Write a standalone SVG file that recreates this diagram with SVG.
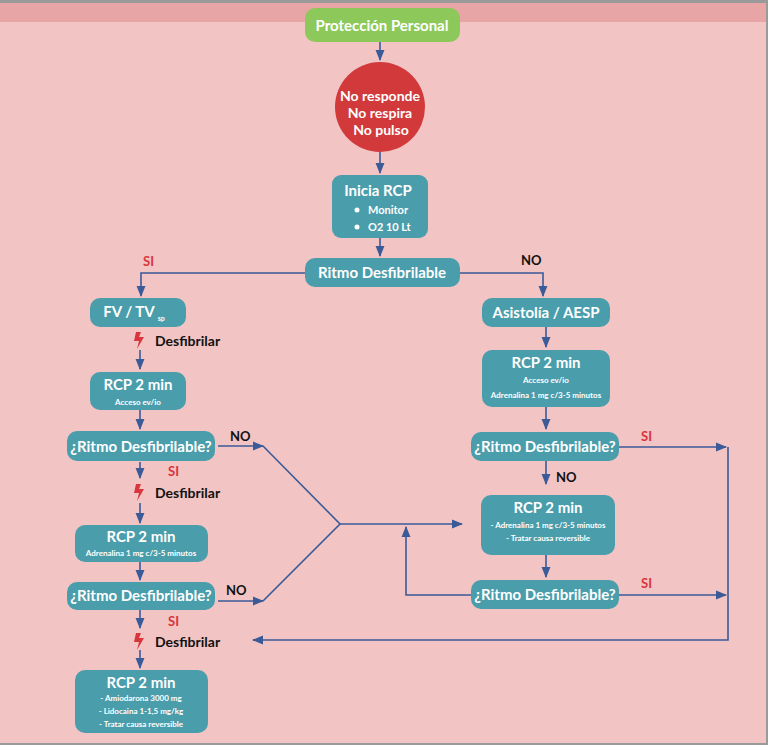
<svg xmlns="http://www.w3.org/2000/svg" width="768" height="745" viewBox="0 0 768 745">
<style>
text{font-family:Lato,"Liberation Sans",sans-serif;font-weight:bold}
.n{fill:#4a9dab}
.t{fill:#fff;text-anchor:middle}
.h{font-size:15px}
.s{font-size:8px}
.c{stroke:#3a5a98;stroke-width:1.6;fill:none}
.r{fill:#d8363c;font-size:13px}
.k{fill:#111;font-size:13px}
.d{fill:#111;font-size:14px}
</style>
<defs><marker id="a" viewBox="0 0 10 10" refX="9" refY="5" markerWidth="7" markerHeight="7" orient="auto"><path d="M0,1 L10,5 L0,9 z" fill="#3a5a98"/></marker>
<path id="bolt" d="M-3,-8 L2,-8 L0,-3 L5,-3 L-2,9 L0,1 L-5,1 z" fill="#d8363c"/></defs>
<rect width="768" height="745" fill="#f2c4c4"/>
<rect width="768" height="22" fill="#e8a5a5"/>
<rect width="768" height="3" fill="#9a9a9a"/>
<rect x="766" y="0" width="2" height="745" fill="#9a9a9a"/>
<rect x="0" y="743" width="768" height="2" fill="#9a9a9a"/>
<g id="connectors">
<path class="c" d="M380,42 V60" marker-end="url(#a)"/>
<path class="c" d="M380,152 V173" marker-end="url(#a)"/>
<path class="c" d="M380,238 V256" marker-end="url(#a)"/>
<path class="c" d="M305,273 H141 V296" marker-end="url(#a)"/>
<path class="c" d="M460,273 H543 V296" marker-end="url(#a)"/>
<path class="c" d="M140,350 V369" marker-end="url(#a)"/>
<path class="c" d="M140,410 V429" marker-end="url(#a)"/>
<path class="c" d="M218,446 H263" marker-end="url(#a)"/>
<path class="c" d="M263,446 L340,524 L263,601"/>
<path class="c" d="M340,524 H462" marker-end="url(#a)"/>
<path class="c" d="M140,462 V478" marker-end="url(#a)"/>
<path class="c" d="M140,503 V523" marker-end="url(#a)"/>
<path class="c" d="M140,562 V580" marker-end="url(#a)"/>
<path class="c" d="M218,601 H263" marker-end="url(#a)"/>
<path class="c" d="M140,610 V628" marker-end="url(#a)"/>
<path class="c" d="M140,650 V668" marker-end="url(#a)"/>
<path class="c" d="M546,327 V347" marker-end="url(#a)"/>
<path class="c" d="M546,407 V429" marker-end="url(#a)"/>
<path class="c" d="M619,447 H726" marker-end="url(#a)"/>
<path class="c" d="M546,461 V484" marker-end="url(#a)"/>
<path class="c" d="M546,555 V577" marker-end="url(#a)"/>
<path class="c" d="M619,595 H726" marker-end="url(#a)"/>
<path class="c" d="M471,595 H406 V527" marker-end="url(#a)"/>
<path class="c" d="M728,447 V640 H253" marker-end="url(#a)"/>
</g>
<g id="proteccion"><rect x="305" y="8" width="155" height="34" rx="10" fill="#8dc95a"/><text class="t h" x="382" y="31">Protección Personal</text></g>
<g id="no-responde"><circle cx="380" cy="107" r="45" fill="#d2393b"/><text class="t" font-size="14" x="380" y="101">No responde</text><text class="t" font-size="14" x="380" y="118">No respira</text><text class="t" font-size="14" x="381" y="135">No pulso</text></g>
<g id="inicia"><rect class="n" x="332" y="175" width="96" height="63" rx="9"/><text class="t h" x="378" y="196">Inicia RCP</text><circle cx="357" cy="210" r="2.5" fill="#fff"/><text x="368" y="214" fill="#fff" font-size="11">Monitor</text><circle cx="357" cy="227" r="2.5" fill="#fff"/><text x="368" y="231" fill="#fff" font-size="11">O2 10 Lt</text></g>
<g id="ritmo"><rect class="n" x="305" y="258" width="155" height="29" rx="10"/><text class="t h" x="382" y="278">Ritmo Desfibrilable</text></g>
<text class="r" x="143" y="266">SI</text><text class="k" x="521" y="265">NO</text>
<g id="fv"><rect class="n" x="90" y="298" width="96" height="29" rx="10"/><text class="t h" x="134" y="317">FV / TV<tspan font-size="7" dx="3" dy="4">sp</tspan></text></g>
<g id="d1"><use href="#bolt" x="139" y="340"/><text class="d" x="155" y="346">Desfibrilar</text></g>
<g id="rcp1"><rect class="n" x="90" y="372" width="96" height="38" rx="10"/><text class="t h" x="138" y="390">RCP 2 min</text><text class="t s" x="138" y="405">Acceso ev/io</text></g>
<g id="q1"><rect class="n" x="67" y="431" width="148" height="30" rx="10"/><text class="t h" x="141" y="452">¿Ritmo Desfibrilable?</text></g>
<text class="k" x="230" y="441">NO</text><text class="r" x="168" y="476">SI</text>
<g id="d2"><use href="#bolt" x="139" y="492"/><text class="d" x="155" y="498">Desfibrilar</text></g>
<g id="rcp2"><rect class="n" x="75" y="525" width="133" height="37" rx="10"/><text class="t h" x="141" y="542">RCP 2 min</text><text class="t s" x="141" y="556">Adrenalina 1 mg c/3-5 minutos</text></g>
<g id="q2"><rect class="n" x="67" y="582" width="148" height="28" rx="10"/><text class="t h" x="141" y="601">¿Ritmo Desfibrilable?</text></g>
<text class="k" x="226" y="595">NO</text><text class="r" x="168" y="626">SI</text>
<g id="d3"><use href="#bolt" x="139" y="641"/><text class="d" x="155" y="647">Desfibrilar</text></g>
<g id="rcp3"><rect class="n" x="75" y="670" width="133" height="63" rx="10"/><text class="t h" x="141" y="688">RCP 2 min</text><text class="t s" x="141" y="701">- Amiodarona 3000 mg</text><text class="t s" x="141" y="714">- Lidocaina 1-1,5 mg/kg</text><text class="t s" x="141" y="727">- Tratar causa reversible</text></g>
<g id="asistolia"><rect class="n" x="482" y="298" width="128" height="29" rx="10"/><text class="t h" x="546" y="318">Asistolía / AESP</text></g>
<g id="rcp4"><rect class="n" x="482" y="350" width="128" height="57" rx="10"/><text class="t h" x="546" y="368">RCP 2 min</text><text class="t s" x="546" y="383">Acceso ev/io</text><text class="t s" x="546" y="398">Adrenalina 1 mg c/3-5 minutos</text></g>
<g id="q3"><rect class="n" x="471" y="432" width="148" height="29" rx="10"/><text class="t h" x="545" y="452">¿Ritmo Desfibrilable?</text></g>
<text class="r" x="641" y="441">SI</text><text class="k" x="556" y="482">NO</text>
<g id="rcp5"><rect class="n" x="481" y="495" width="134" height="60" rx="10"/><text class="t h" x="548" y="513">RCP 2 min</text><text class="t s" x="548" y="528">- Adrenalina 1 mg c/3-5 minutos</text><text class="t s" x="548" y="541">- Tratar causa reversible</text></g>
<g id="q4"><rect class="n" x="471" y="580" width="148" height="29" rx="10"/><text class="t h" x="545" y="600">¿Ritmo Desfibrilable?</text></g>
<text class="r" x="641" y="588">SI</text>
</svg>
